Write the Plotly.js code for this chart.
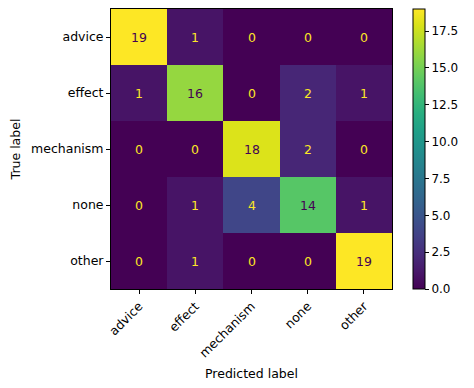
<!DOCTYPE html>
<html>
<head>
<meta charset="utf-8">
<script src="https://cdn.plot.ly/plotly-3.0.1.min.js"></script>
<style>html,body{margin:0;padding:0;background:#fff;}#chart{width:474px;height:388px;}</style>
</head>
<body>
<div id="chart"></div>
<script>
const predictedLabels = ["advice", "effect", "mechanism", "none", "other"];
const trueLabels = ["advice", "effect", "mechanism", "none", "other"];
const counts = [
  [19, 1, 0, 0, 0],
  [1, 16, 0, 2, 1],
  [0, 0, 18, 2, 0],
  [0, 1, 4, 14, 1],
  [0, 1, 0, 0, 19]
];
const colorbarTicks = [0, 2.5, 5, 7.5, 10, 12.5, 15, 17.5];

const FONT = "DejaVu Sans, sans-serif";
const zmin = 0, zmax = 19;
const thresh = (zmax + zmin) / 2;

const annotations = [];
counts.forEach((row, i) => {
  row.forEach((v, j) => {
    annotations.push({
      x: predictedLabels[j], y: trueLabels[i], text: String(v),
      showarrow: false, xref: "x", yref: "y",
      font: {family: FONT, size: 12.5, color: v < thresh ? "#fde725" : "#440154"}
    });
  });
});

const trace = {
  type: "heatmap",
  z: counts,
  x: predictedLabels,
  y: trueLabels,
  zmin: zmin, zmax: zmax,
  colorscale: "Viridis",
  hoverinfo: "none",
  colorbar: {
    x: 1.075, xanchor: "left", xref: "paper",
    y: 0.5, yanchor: "middle", len: 1, lenmode: "fraction",
    thickness: 12, thicknessmode: "pixels",
    outlinewidth: 1, outlinecolor: "#000",
    tickmode: "array", tickvals: colorbarTicks,
    ticktext: colorbarTicks.map(v => v.toFixed(1)),
    ticks: "outside", ticklen: 4, tickwidth: 1, tickcolor: "#000",
    tickfont: {family: FONT, size: 12, color: "#000"},
    xpad: 0, ypad: 0
  }
};

const layout = {
  width: 474, height: 388,
  margin: {l: 111, r: 82, t: 9, b: 99},
  paper_bgcolor: "#fff", plot_bgcolor: "#fff",
  font: {family: FONT, color: "#000"},
  xaxis: {
    type: "category",
    showline: true, mirror: true, linecolor: "#000", linewidth: 1,
    ticks: "outside", ticklen: 4, tickcolor: "#000",
    tickangle: -45,
    tickfont: {family: FONT, size: 12.5, color: "#000"},
    title: {text: "Predicted label", font: {family: FONT, size: 12.5, color: "#000"}, standoff: 9},
    showgrid: false, zeroline: false, automargin: false,
    constrain: "domain"
  },
  yaxis: {
    type: "category",
    autorange: "reversed",
    showline: true, mirror: true, linecolor: "#000", linewidth: 1,
    ticks: "outside", ticklen: 4, tickcolor: "#000",
    tickfont: {family: FONT, size: 12.5, color: "#000"},
    title: {text: "True label", font: {family: FONT, size: 12.5, color: "#000"}, standoff: 7},
    showgrid: false, zeroline: false, automargin: false
  },
  annotations: annotations
};

Plotly.newPlot("chart", [trace], layout, {displayModeBar: false, staticPlot: true});
</script>
</body>
</html>
